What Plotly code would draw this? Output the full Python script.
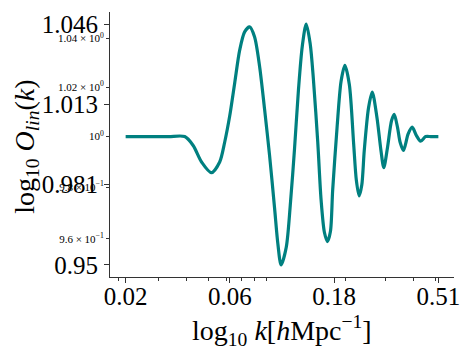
import numpy as np
import plotly.graph_objects as go

# wavenumber k [h/Mpc] and oscillation ratio O_lin(k)
k_vals = [0.0216, 0.0250, 0.0290, 0.0335, 0.0393, 0.0428, 0.0466, 0.0515, 0.0560, 0.0589,
          0.0620, 0.0652, 0.0686, 0.0721, 0.0758, 0.0797, 0.0839, 0.0882, 0.0928, 0.0976,
          0.1010, 0.1043, 0.1099, 0.1148, 0.1195, 0.1244, 0.1292, 0.1345, 0.1400, 0.1447,
          0.1512, 0.1564, 0.1618, 0.1668, 0.1719, 0.1759, 0.1839, 0.1915, 0.1990, 0.2082,
          0.2175, 0.2235, 0.2299, 0.2362, 0.2422, 0.2530, 0.2626, 0.2754, 0.2868, 0.2951,
          0.3066, 0.3192, 0.3280, 0.3392, 0.3485, 0.3603, 0.3778, 0.3935, 0.4109, 0.4287,
          0.4508, 0.4750, 0.4950, 0.5130]
o_vals = [1.0, 1.0, 1.0, 1.0, 1.0, 0.99645, 0.98990, 0.98569, 0.98990, 0.99775,
          1.00833, 1.02168, 1.03523, 1.04275, 1.04480, 1.04070, 1.02844, 1.01112, 0.99252, 0.97196,
          0.95790, 0.95000, 0.95673, 0.97438, 0.99515, 1.01902, 1.03658, 1.04600, 1.03793, 1.02317,
          0.99775, 0.97504, 0.96240, 0.95893, 0.96278, 0.97890, 1.00368, 1.02236, 1.02885, 1.02103,
          0.99712, 0.98277, 0.97658, 0.98083, 0.99449, 1.01164, 1.01793, 1.00765, 0.99449, 0.98764,
          0.99578, 1.00634, 1.00893, 1.00368, 0.99763, 0.99449, 1.00107, 1.00376, 1.00040, 0.99815,
          1.0, 1.0, 1.0, 1.0]

x_tick_labels = ["0.02", "0.06", "0.18", "0.51"]
y_tick_labels = ["0.95", "0.981", "1.013", "1.046"]
y_minor_vals = [0.96, 0.98, 1.00, 1.02, 1.04]
y_minor_labels = ["9.6 × 10<sup>−1</sup>", "9.8 × 10<sup>−1</sup>", "10<sup>0</sup>",
                  "1.02 × 10<sup>0</sup>", "1.04 × 10<sup>0</sup>"]
x_minor_vals = [0.02, 0.03, 0.04, 0.05, 0.06, 0.07, 0.08, 0.09, 0.2, 0.3, 0.4, 0.5]

FONT = "Liberation Serif"
LINE = "#008080"
AX = "#333333"

lk = np.log10(k_vals)
lo = np.log10(o_vals)
x_ticks = list(np.logspace(lk.min(), lk.max(), 4))
y_ticks = list(np.logspace(lo.min(), lo.max(), 4))
xpad = 0.05 * (lk.max() - lk.min())
ypad = 0.05 * (lo.max() - lo.min())
xr = [lk.min() - xpad, lk.max() + xpad]
yr = [lo.min() - ypad, lo.max() + ypad]

fig = go.Figure()
fig.add_trace(go.Scatter(x=k_vals, y=o_vals, mode="lines",
                         line=dict(color=LINE, width=3.2, shape="spline", smoothing=0.8),
                         showlegend=False, hoverinfo="skip"))
# invisible companion trace so the overlaid minor-label axis is drawn
fig.add_trace(go.Scatter(x=k_vals, y=o_vals, mode="lines", yaxis="y2",
                         line=dict(color="rgba(0,0,0,0)", width=0),
                         showlegend=False, hoverinfo="skip"))

fig.update_layout(
    width=474, height=355,
    margin=dict(l=110, r=20, t=12, b=78, autoexpand=False),
    paper_bgcolor="white", plot_bgcolor="white",
    font=dict(family=FONT, color="black"),
    xaxis=dict(type="log", range=xr, autorange=False, tickvals=x_ticks, ticktext=x_tick_labels,
               tickfont=dict(size=25, family=FONT, color="black"), ticks="outside", ticklen=5,
               tickwidth=1, tickcolor=AX, showline=True, linecolor=AX, linewidth=1,
               showgrid=False, zeroline=False, automargin=False, ticklabelstandoff=-8,
               minor=dict(tickvals=x_minor_vals, ticks="outside", ticklen=3,
                          tickcolor=AX, tickwidth=0.8, showgrid=False)),
    yaxis=dict(type="log", range=yr, autorange=False, tickvals=y_ticks, ticktext=y_tick_labels,
               tickfont=dict(size=25, family=FONT, color="black"), ticks="outside", ticklen=5,
               tickwidth=1, tickcolor=AX, showline=True, linecolor=AX, linewidth=1,
               showgrid=False, zeroline=False, automargin=False, ticklabelstandoff=1),
    yaxis2=dict(type="log", range=yr, autorange=False, overlaying="y", side="left", anchor="x",
                tickvals=y_minor_vals, ticktext=y_minor_labels,
                tickfont=dict(size=11, family=FONT, color="black"), ticks="outside", ticklen=3,
                tickwidth=0.8, tickcolor=AX, showline=False, showgrid=False, zeroline=False,
                automargin=False),
)

fig.add_annotation(text="log<sub>10</sub> <i>O<sub>lin</sub></i>(<i>k</i>)",
                   xref="paper", yref="paper", x=-0.245, y=0.49, textangle=-90,
                   showarrow=False, xanchor="center", yanchor="middle",
                   font=dict(size=28, family=FONT, color="black"))
fig.add_annotation(text="log<sub>10</sub> <i>k</i>[<i>h</i>Mpc<sup>−1</sup>]",
                   xref="paper", yref="paper", x=0.5, y=-0.2,
                   showarrow=False, xanchor="center", yanchor="middle",
                   font=dict(size=28, family=FONT, color="black"))

fig.write_html("out.html", config={"displayModeBar": False},
               post_script="document.body.style.margin='0px';document.body.style.overflow='hidden';")
